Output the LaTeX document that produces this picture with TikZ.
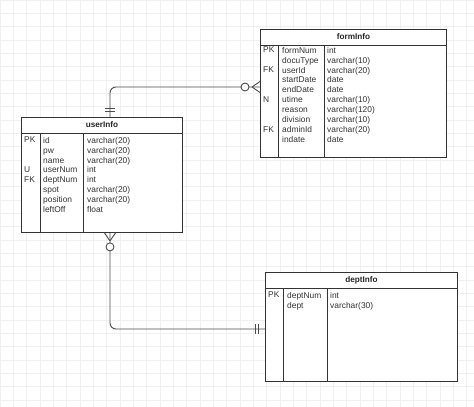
\documentclass[tikz,border=0pt]{standalone}
\usepackage{fontspec}
\setmainfont{Liberation Sans}
\usetikzlibrary{calc}

\begin{document}
\begin{tikzpicture}[x=1pt,y=-1pt,
  tbl/.style={draw=black!80,line width=0.9pt,fill=white,inner sep=0pt,anchor=north west},
  sep/.style={draw=black!80,line width=0.9pt},
  col/.style={align=left,anchor=north west,inner sep=0pt,text=black!80,font=\fontsize{8.4}{9.9}\selectfont},
  hdr/.style={text=black!85,font=\bfseries\fontsize{8.2}{9.9}\selectfont},
  rel/.style={draw=black!70,line width=0.9pt},
  gridline/.style={draw=black!6,line width=0.5pt}]
  % page and grid
  \useasboundingbox (0,0) rectangle (474,407);
  \fill[white] (0,0) rectangle (474,407);
  \draw[gridline,step=13.33pt] (0,0) grid (474,407);
  % formInfo table
  \node[tbl,minimum width=186,minimum height=128] (formBox) at (260,29) {};
  \draw[sep] ($(formBox.north west)+(0,16)$) -- ($(formBox.north east)+(0,16)$);
  \draw[sep] ($(formBox.north west)+(18,16)$) -- ($(formBox.south west)+(18,0)$);
  \draw[sep] ($(formBox.north west)+(64,16)$) -- ($(formBox.south west)+(64,0)$);
  \node[hdr] (formHead) at ($(formBox.north)+(0,8)$) {formInfo};
  \node[col] (formKeys) at (263,47) {PK\\{}\\FK\\{}\\{}\\N\\{}\\{}\\FK};
  \node[col] (formNames) at (282,47) {formNum\\docuType\\userId\\startDate\\endDate\\utime\\reason\\division\\adminId\\indate};
  \node[col] (formTypes) at (327,47) {int\\varchar(10)\\varchar(20)\\date\\date\\varchar(10)\\varchar(120)\\varchar(10)\\varchar(20)\\date};
  % userInfo table
  \node[tbl,minimum width=161,minimum height=115] (userBox) at (21,117) {};
  \draw[sep] ($(userBox.north west)+(0,16)$) -- ($(userBox.north east)+(0,16)$);
  \draw[sep] ($(userBox.north west)+(19,16)$) -- ($(userBox.south west)+(19,0)$);
  \draw[sep] ($(userBox.north west)+(62,16)$) -- ($(userBox.south west)+(62,0)$);
  \node[hdr] (userHead) at ($(userBox.north)+(0,8)$) {userInfo};
  \node[col] (userKeys) at (24,137) {PK\\{}\\{}\\U\\FK};
  \node[col] (userNames) at (43,137) {id\\pw\\name\\userNum\\deptNum\\spot\\position\\leftOff};
  \node[col] (userTypes) at (87,137) {varchar(20)\\varchar(20)\\varchar(20)\\int\\int\\varchar(20)\\varchar(20)\\float};
  % deptInfo table
  \node[tbl,minimum width=192,minimum height=109] (deptBox) at (265,272) {};
  \draw[sep] ($(deptBox.north west)+(0,16)$) -- ($(deptBox.north east)+(0,16)$);
  \draw[sep] ($(deptBox.north west)+(18,16)$) -- ($(deptBox.south west)+(18,0)$);
  \draw[sep] ($(deptBox.north west)+(62,16)$) -- ($(deptBox.south west)+(62,0)$);
  \node[hdr] (deptHead) at ($(deptBox.north)+(0,8)$) {deptInfo};
  \node[col] (deptKeys) at (268,292) {PK};
  \node[col] (deptNames) at (287,292) {deptNum\\dept};
  \node[col] (deptTypes) at (330,292) {int\\varchar(30)};
  % relation userInfo -- formInfo
  \coordinate (formEnd) at ($(formBox.north west)+(0,58)$);
  \coordinate (userTop) at ($(userBox.north west)+(89,0)$);
  \draw[rel,rounded corners=6] (formEnd) -| (userTop);
  \draw[rel] ($(formEnd)+(-8,0)$) -- ($(formEnd)+(0,-5.5)$);
  \draw[rel] ($(formEnd)+(-8,0)$) -- ($(formEnd)+(0,5.5)$);
  \draw[rel,fill=white] ($(formEnd)+(-15,0)$) circle (4pt);
  \draw[rel] ($(userTop)+(-5,-9)$) -- ($(userTop)+(5,-9)$);
  \draw[rel] ($(userTop)+(-5,-6)$) -- ($(userTop)+(5,-6)$);
  % relation deptInfo -- userInfo
  \coordinate (userBot) at ($(userBox.south west)+(89,0)$);
  \coordinate (deptEnd) at ($(deptBox.north west)+(0,57)$);
  \draw[rel,rounded corners=6] (userBot) |- (deptEnd);
  \draw[rel] ($(userBot)+(0,8)$) -- ($(userBot)+(-5.5,0)$);
  \draw[rel] ($(userBot)+(0,8)$) -- ($(userBot)+(5.5,0)$);
  \draw[rel,fill=white] ($(userBot)+(0,14)$) circle (4pt);
  \draw[rel] ($(deptEnd)+(-10,-5)$) -- ($(deptEnd)+(-10,5)$);
  \draw[rel] ($(deptEnd)+(-7,-5)$) -- ($(deptEnd)+(-7,5)$);
\end{tikzpicture}
\end{document}
